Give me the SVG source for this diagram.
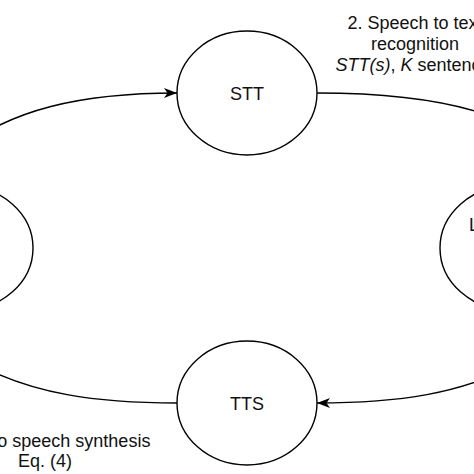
<svg xmlns="http://www.w3.org/2000/svg" width="474" height="474" viewBox="0 0 474 474">
  <style>
    .node { fill: #ffffff; stroke: #000000; stroke-width: 1.4; }
    .edge { fill: none; stroke: #000000; stroke-width: 1.5; }
    .label { font-family: "Liberation Sans", Arial, sans-serif; font-size: 18px; fill: #111111; }
  </style>
  <defs>
    <marker id="arrow" markerUnits="userSpaceOnUse" markerWidth="14" markerHeight="11" refX="13" refY="5" orient="auto">
      <path d="M0,0 L13,5 L0,10 L3.5,5 z" fill="#000000"/>
    </marker>
  </defs>
  <rect x="0" y="0" width="474" height="474" fill="#ffffff"/>

  <g id="connectors">
    <path class="edge" d="M -40 150 C 10 110, 80 93, 177 93" marker-end="url(#arrow)"/>
    <path class="edge" d="M 317 93 C 400 93, 480 103, 530 135"/>
    <path class="edge" d="M 524 360 C 464 395, 394 403, 317 403" marker-end="url(#arrow)"/>
    <path class="edge" d="M 177 403 C 100 403, 30 395, -30 360"/>
  </g>

  <g id="node-left">
    <ellipse class="node" cx="-37" cy="248" rx="70" ry="62"/>
  </g>

  <g id="node-stt">
    <ellipse class="node" cx="247" cy="93" rx="70" ry="62"/>
    <text class="label" x="247" y="100" text-anchor="middle">STT</text>
  </g>

  <g id="node-right">
    <ellipse class="node" cx="510" cy="248" rx="70" ry="62"/>
    <text class="label" x="469" y="231">L</text>
  </g>

  <g id="node-tts">
    <ellipse class="node" cx="247" cy="403" rx="70" ry="62"/>
    <text class="label" x="247" y="410" text-anchor="middle">TTS</text>
  </g>

  <g id="label-stt">
    <text class="label" text-anchor="middle">
      <tspan x="417.5" y="28.5">2. Speech to text</tspan>
      <tspan x="417.5" y="49.8">recognition</tspan>
      <tspan x="417.5" y="71"><tspan font-style="italic">STT(s)</tspan>, <tspan font-style="italic">K</tspan> sentences</tspan>
    </text>
  </g>

  <g id="label-tts">
    <text class="label" text-anchor="middle">
      <tspan x="45" y="447">4. Text to speech synthesis</tspan>
      <tspan x="45" y="467">Eq. (4)</tspan>
    </text>
  </g>
</svg>
